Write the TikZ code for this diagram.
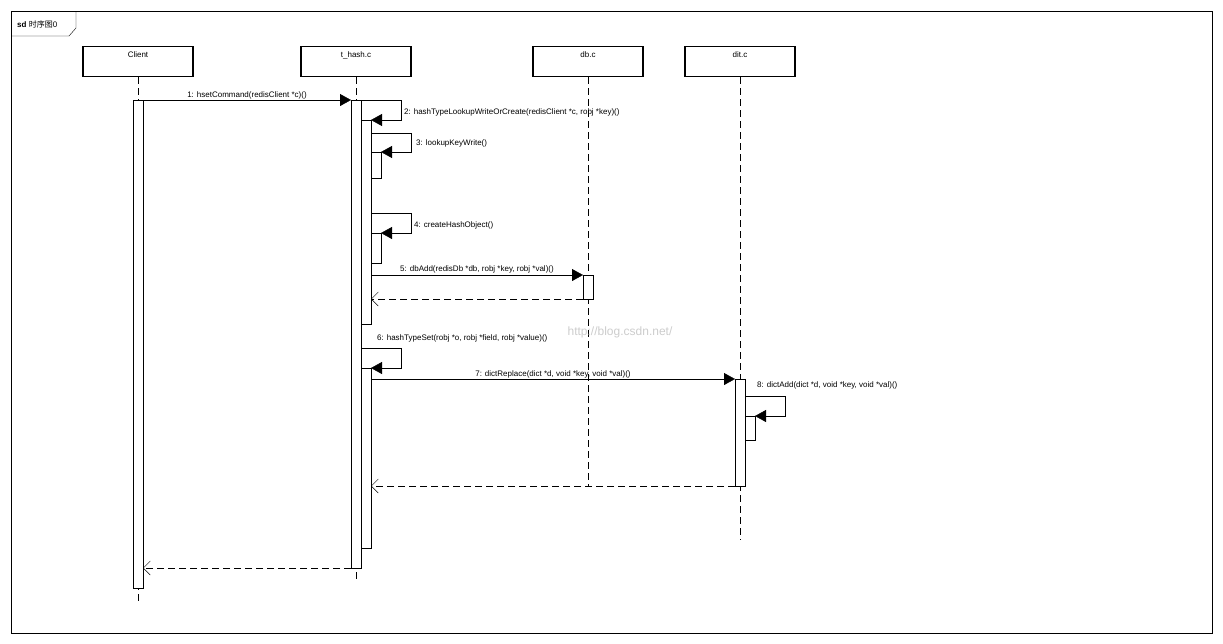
\documentclass[tikz,border=0pt]{standalone}
\usepackage{fontspec}
\setmainfont{Liberation Sans}
\newfontfamily\cjk{Noto Sans CJK SC}
\usetikzlibrary{arrows.meta, positioning}
\begin{document}
\begin{tikzpicture}[x=1pt, y=-1pt, font=\fontsize{8}{9}\selectfont,
    obj/.style={draw, line width=1.2pt, minimum width=110pt, minimum height=30pt, anchor=north, inner sep=0pt, text depth=14pt},
    life/.style={dash pattern=on 7pt off 4pt},
    bar/.style={draw, fill=white},
    call/.style={-{Triangle[length=11pt,width=12pt]}},
    ret/.style={dashed, dash pattern=on 7pt off 4pt, -{Straight Barb[length=7pt,width=14pt]}},
    msg/.style={inner sep=1pt}]
    \useasboundingbox (0,0) rectangle (1223,643);
    % Frame
    \draw (11,11) rectangle (1212,633);
    \draw (11,36) -- (69,36) -- (76,28) -- (76,11);
    \node[anchor=west, inner sep=0pt] (title) at (17,24) {\textbf{sd} {\cjk 时序图}0};

    % Objects
    \node[obj] (client) at (138,46) {Client};
    \node[obj] (thash) at (356,46) {t\_hash.c};
    \node[obj] (db) at (588,46) {db.c};
    \node[obj] (dit) at (740,46) {dit.c};

    % Lifelines
    \draw[life] (client.south) -- (138,603);
    \draw[life] (thash.south) -- (356,583);
    \draw[life] (db.south) -- (588,486);
    \draw[life] (dit.south) -- (740,540);

    % Activations
    \draw[bar] (133,100) rectangle (143,588);
    \draw[bar] (351,100) rectangle (361,568);
    \draw[bar] (361,120) rectangle (371,324);
    \draw[bar] (371,152) rectangle (381,178);
    \draw[bar] (371,233) rectangle (381,263);
    \draw[bar] (583,275) rectangle (593,299);
    \draw[bar] (361,368) rectangle (371,548);
    \draw[bar] (735,379) rectangle (745,486);
    \draw[bar] (745,416) rectangle (755,440);

    % Messages
    \draw[call] (143,100) -- node[msg, above] {1: hsetCommand(redisClient *c)()} (351,100);
    \draw[call] (361,100) -- (401,100) -- (401,120) -- (371,120);
    \node[msg, anchor=west] (m2) at (403,112) {2: hashTypeLookupWriteOrCreate(redisClient *c, robj *key)()};
    \draw[call] (371,133) -- (411,133) -- (411,152) -- (381,152);
    \node[msg, anchor=west] (m3) at (415,143) {3: lookupKeyWrite()};
    \draw[call] (371,213) -- (411,213) -- (411,233) -- (381,233);
    \node[msg, anchor=west] (m4) at (413,225) {4: createHashObject()};
    \draw[call] (371,275) -- node[msg, above=1pt] {5: dbAdd(redisDb *db, robj *key, robj *val)()} (583,275);
    \draw[ret] (583,299) -- (371,299);
    \draw[call] (361,348) -- (401,348) -- (401,368) -- (371,368);
    \node[msg, anchor=west] (m6) at (376,338) {6: hashTypeSet(robj *o, robj *field, robj *value)()};
    \draw[call] (371,379) -- node[msg, above] {7: dictReplace(dict *d, void *key, void *val)()} (735,379);
    \draw[call] (745,396) -- (785,396) -- (785,416) -- (755,416);
    \node[msg, anchor=west] (m8) at (756,385) {8: dictAdd(dict *d, void *key, void *val)()};
    \draw[ret] (735,486) -- (371,486);
    \draw[ret] (351,568) -- (143,568);

    % Watermark
    \node[text=black!20, font=\rmfamily\fontsize{12}{12}\selectfont] (mark) at (620,332) {http://blog.csdn.net/};
\end{tikzpicture}
\end{document}
